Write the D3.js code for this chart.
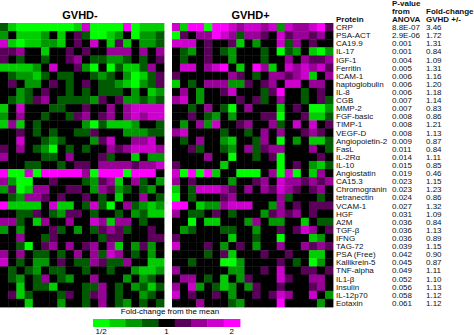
<!DOCTYPE html>
<html><head><meta charset="utf-8">
<script src="https://cdn.jsdelivr.net/npm/d3@7"></script>
<style>body{margin:0;background:#fff}</style>
</head><body>
<svg id="c" width="474" height="335"></svg>
<script>
const proteins = ["CRP","PSA-ACT","CA19.9","IL-17","IGF-1","Ferritin","ICAM-1","haptoglobulin","IL-8","CGB","MMP-2","FGF-basic","TIMP-1","VEGF-D","Angiopoietin-2","FasL","IL-2Rα","IL-10","Angiostatin","CA15.3","Chromogranin","tetranectin","VCAM-1","HGF","A2M","TGF-β","IFNG","TAG-72","PSA (Free)","Kallikrein-5","TNF-alpha","IL1-β","Insulin","IL-12p70","Eotaxin"];
const pValues = ["8.8E-07","2.9E-06","0.001","0.001","0.004","0.005","0.006","0.006","0.006","0.007","0.007","0.008","0.008","0.008","0.009","0.011","0.014","0.015","0.019","0.023","0.023","0.024","0.027","0.031","0.036","0.036","0.036","0.039","0.042","0.045","0.049","0.052","0.056","0.058","0.061"];
const foldChanges = ["3.46","1.72","1.31","0.84","1.09","1.31","1.16","1.20","1.18","1.14","0.83","0.86","1.21","1.13","0.87","0.84","1.11","0.85","0.46","1.15","1.23","0.86","1.32","1.09","0.84","1.13","0.89","1.15","0.90","0.87","1.11","1.10","1.13","1.12","1.12"];

// fold change from the mean, in quarter-log2 steps (-4 = 1/2, 0 = 1, 4 = 2)
const gvhdNeg = [
[-1,-3,-4,-4,-4,-4,-4,-4,-4,-3, 3,-4,-4,-4,-4, 4,-4,-3,-3,-3],
[-2, 0,-3,-3,-3,-2, 0,-3, 0, 1,-1,-4,-4,-3,-2, 0,-4,-2,-2,-1],
[ 3,-3,-4,-3,-3,-2,-2,-3, 0, 1, 0, 3, 0,-3, 1,-3, 0,-2,-2,-1],
[ 1, 1, 2, 0, 0,-3, 0, 0, 1, 0, 1, 0, 0, 2, 2, 2, 0, 2, 0, 2],
[ 1, 0,-1, 0, 0,-1, 0, 0, 1, 2, 0,-1,-1,-2,-2,-1, 0,-1, 0, 1],
[-3,-3,-3,-3,-2, 0, 3, 0, 0, 1,-2,-4, 0,-4,-1,-3,-3,-1, 2, 0],
[ 0,-1,-2,-2,-3,-1, 0,-1,-1, 0, 0,-1,-2,-1, 0,-2,-4,-3,-1, 1],
[ 0, 1, 0,-2,-2, 0, 1, 0,-1, 0, 1, 0,-1,-1,-2,-3,-4,-2,-1, 1],
[ 0, 0,-2,-1, 0, 1, 0, 0,-1, 0,-1, 0,-1,-1,-1, 0,-2, 0,-3,-2],
[ 0,-1,-2,-1, 1, 2, 0,-1,-1,-1,-1,-2, 1, 0, 1,-2,-2,-1,-2,-1],
[-3, 0, 3, 0, 0, 0,-1,-1, 0, 0, 1, 0, 0, 2, 0, 2, 3, 3, 3, 3],
[-2, 0, 2, 0, 0,-1, 0, 0,-1, 1, 2, 0, 1, 2, 0, 2, 3, 2, 3, 3],
[-3, 2,-3, 0,-1, 0, 0, 0, 0, 0,-2,-4,-1,-3,-3,-3,-2, 0, 0,-1],
[ 0, 0, 1, 0,-1, 0,-1, 0, 0,-1,-1, 1, 0, 0, 0,-2,-2,-2,-1,-1],
[ 0, 0, 3, 0, 0,-1,-2,-1, 0, 0, 0,-2, 1, 3, 0, 0, 2, 2, 3, 0],
[ 1, 0, 2, 0,-1,-2,-4, 0,-1, 0,-1, 0, 0, 2, 1, 2, 3, 3, 3, 2],
[ 2, 0, 0, 0, 0,-1,-1, 0, 2, 0, 0, 0, 1,-1, 0, 0,-3, 0,-2,-2],
[ 0, 0, 0,-1,-1, 0, 0,-1, 0, 1, 1, 0, 2, 2, 2, 2, 1, 2, 2, 3],
[ 4,-4,-4, 3,-4, 4, 4, 4, 4, 4, 2,-4, 4, 4, 4,-4, 4, 4, 4, 0],
[ 2,-2,-4,-4, 0, 0, 1, 0, 0, 0,-1,-2, 1, 2,-3, 0, 2,-1, 0,-2],
[-2, 1,-4,-3, 2, 2, 0, 0, 1, 1, 0,-2, 2, 1,-2,-1, 0,-1,-2, 0],
[ 0,-1,-2, 2, 2, 1, 0, 1, 0, 0, 1, 0,-1, 0,-3, 0, 0, 2, 0,-1],
[ 4,-3,-3,-3,-3, 0, 3,-3,-3, 0,-1, 3,-1,-4, 0, 2,-1,-2,-3,-2],
[ 0, 0,-1,-1, 1, 0,-1,-2, 1, 1, 0,-1, 0, 0,-1, 0,-2,-1,-3,-3],
[ 2, 2,-1, 0,-3, 2, 0, 0, 2, 0, 0, 3, 2,-3, 2, 2, 0,-1, 0, 0],
[-2, 0,-2, 0, 0, 0, 1,-1, 0,-2, 0,-1, 1, 2, 1,-1, 0, 0, 1, 0],
[ 0, 0, 2, 0, 0,-1, 1, 0, 0, 0, 0, 0,-1, 1, 1, 0, 0, 0, 1, 1],
[ 0, 0,-1,-4, 0, 1, 2, 0, 2, 0, 1, 2, 0, 2,-3, 0,-2, 1,-2, 0],
[ 2, 0, 2, 0,-1,-1, 0,-1, 0, 2, 0, 2,-1, 3, 2, 0,-1, 0,-2, 0],
[ 3, 0,-1, 0,-2,-2, 0, 1, 0,-1,-1, 2, 1,-1,-1, 2, 0, 0,-3,-3],
[ 0,-1, 0,-1,-2, 0,-1,-1, 0, 0,-1, 0, 0,-1, 0, 0,-2,-3,-3,-2],
[ 0,-1,-2, 0,-1, 2, 0,-1,-2, 0, 0, 2, 0, 0, 0,-2, 0,-2,-1, 0],
[ 0, 0,-3, 0,-1,-1,-3, 0, 0, 0,-1,-1, 2, 0,-1, 0,-2,-1,-3,-1],
[ 0, 1,-3,-1, 0, 0, 0,-1, 1, 0,-1, 1, 2, 0,-1, 0, 0,-2,-1, 0],
[ 0, 0, 0,-3, 0, 0, 0,-2, 0, 0,-1, 0, 2, 0,-1,-2, 0,-1, 0,-1]
];
const gvhdPos = [
[ 3,-3, 4, 4,-4, 4, 4, 3, 2, 3, 3, 2, 3,-2, 3, 2, 2, 3, 4, 1],
[-4, 1, 0, 2, 2, 4, 3, 2,-1, 2, 2, 1, 0, 3, 1, 2, 2, 1, 2, 0],
[ 3, 3, 3, 0, 1, 0, 0, 1,-3, 0,-2, 0, 0, 3,-1, 2, 0, 1, 0, 0],
[ 0,-1,-2, 0, 1, 0,-1,-2, 0, 0, 0,-1, 0,-4,-1,-2, 0,-3,-4,-2],
[ 0,-1, 0, 0, 1, 0, 0,-2, 0, 0, 0,-1, 0, 0, 2, 0, 2, 1, 1, 2],
[ 0, 3, 3, 0, 2, 3, 4, 0,-3, 0, 4, 2,-3, 0, 3, 2, 3, 2, 3, 1],
[ 1, 0, 0, 0, 0, 0, 0, 2, 1, 0,-1, 0, 2, 2, 1, 2, 3,-3, 0, 2],
[-3, 0,-1, 0, 2, 2, 2,-2,-2, 1, 0, 1, 2, 0, 3, 3, 0, 2, 2, 0],
[ 0, 2, 0,-2, 0, 0, 1, 3, 0, 0, 0,-1, 1, 4, 0, 0,-1, 0, 1, 0],
[ 2, 3, 0,-2, 0, 0, 0, 0, 1, 0, 1,-1, 0, 2, 0, 0,-1, 0, 1,-1],
[ 0, 0,-1, 0, 2, 0,-1,-4, 0, 2, 0, 0, 0,-3, 0, 1, 0,-4,-4,-2],
[ 0, 0, 1, 0,-1,-2, 0,-2, 0, 0, 0, 1, 1,-4, 0, 0, 1,-3,-3,-1],
[ 0,-2, 0, 2,-2, 3, 0, 0, 1, 2, 0, 0, 2,-1, 0, 3, 0, 3, 0, 1],
[ 2, 3, 0, 0, 0, 0,-1, 0, 0,-1, 0, 2, 0, 2, 0, 0, 1, 2, 1, 0],
[ 0,-1, 0, 2, 0, 0,-2,-3, 0, 0,-1, 2, 0,-4, 0,-2, 0,-3,-3,-1],
[ 0, 0, 1,-1, 0, 0,-1,-2, 0, 2,-1, 1, 2, 2, 0, 0, 0, 2, 0,-1],
[ 0, 0, 0, 0, 2, 0, 0,-4, 0, 0,-1, 0, 1,-4, 0, 0, 0, 0, 1, 0],
[ 1, 0, 0, 0, 0, 0,-3, 0, 0, 0, 0, 0, 0,-4, 0, 1, 0,-2,-3,-1],
[ 3,-4, 4,-4, 4,-3, 0, 0,-4,-4,-4, 0, 2,-4, 3,-4, 0,-3, 2, 0],
[ 2, 0, 1, 0, 0, 0, 0,-2, 0, 0, 1, 2, 0, 3, 2, 2, 1, 2, 1, 2],
[-3, 0,-1, 3, 3, 3, 2, 1, 0, 2, 0, 2, 1, 3, 2, 1, 0, 1, 2, 0],
[-4, 0,-1, 0, 0, 0, 1, 2, 0, 0, 0, 0, 0, 2,-1, 0, 0, 0,-1, 0],
[ 4, 4, 0,-3,-2,-2, 2, 3, 3, 3, 0, 0,-2, 2, 0, 1, 0, 1, 1, 1],
[ 2, 0,-1,-1, 0, 1, 0,-1, 0, 0, 0,-2, 1, 2, 1, 2, 0, 1, 0, 0],
[ 0, 0,-4, 0,-3,-3, 0, 0, 0,-2, 2, 0,-2,-2, 0, 0,-3, 0,-1,-1],
[ 0,-2,-1, 0, 0, 0,-1,-1, 0, 0,-2, 0, 0, 1, 0, 1, 3, 2, 0, 1],
[ 1, 0, 0, 0, 0, 0, 0,-3, 0, 0,-1, 0, 0,-4, 0, 0, 0,-3,-2, 0],
[ 3, 0, 0, 0, 1, 0,-2, 0, 1, 0,-2, 0, 0, 2, 0, 0, 2, 1, 2, 1],
[ 0, 0, 0, 0,-1, 0, 1,-3, 0, 0, 0, 1, 0, 0, 1, 0, 0,-3,-3, 0],
[ 0, 0,-1, 0, 0, 0,-4,-4,-2, 0, 0, 0, 0, 1, 0,-1, 0,-4,-2, 0],
[ 2, 0, 0, 0, 0, 0, 0,-2,-2, 0, 0, 1, 0, 3, 0, 0, 1, 1, 0, 1],
[ 0, 2, 2, 0,-1, 0,-3, 0,-2, 1, 0, 0, 0, 3, 1, 0, 0, 2, 2, 0],
[ 2, 0, 3,-2, 0,-1,-3,-2, 0,-2, 1, 0, 0, 1, 0, 0, 0, 1, 2, 0],
[ 3, 0, 1, 0, 0, 1, 0,-2, 0, 0, 1, 0, 1, 3, 2, 0, 0, 3, 0,-2],
[ 0, 0, 0, 2, 0, 0, 0,-1,-2, 0, 0, 0, 0, 4, 0, 0, 0, 0,-2, 0]
];
const groupTitles = ["GVHD-","GVHD+"];
const legendLevels = [-4,-3,-2,-1,0,1,2,3,4];
const legendTickLevels = [-4,0,4];
const legendTickLabels = ["1/2","1","2"];

const svg = d3.select("#c");
const font = "'Liberation Sans', Arial, Helvetica, sans-serif";
const nCols = gvhdNeg[0].length;
const y = d3.scaleBand().domain(d3.range(proteins.length)).range([23, 307]);
const xNeg = d3.scaleBand().domain(d3.range(nCols)).range([0, 164]);
const xPos = d3.scaleBand().domain(d3.range(nCols)).range([172, 333]);
const intensity = d3.scalePow().exponent(0.75).domain([0, 4]).range([0, 255]).clamp(true);
const color = v => {
  const k = Math.round(intensity(Math.abs(v)));
  return v < 0 ? d3.rgb(0, k, 0).formatHex() : d3.rgb(k, 0, k).formatHex();
};

function drawGroup(data, x, title) {
  const g = svg.append("g");
  data.forEach((row, i) => {
    g.selectAll(null).data(row).join("rect")
      .attr("x", (d, j) => x(j))
      .attr("y", y(i))
      .attr("width", x.bandwidth() + 0.4)
      .attr("height", y.bandwidth() + 0.4)
      .attr("fill", d => color(d));
  });
  const r = x.range();
  svg.append("text").attr("x", (r[0] + r[1]) / 2 - 2).attr("y", 19)
    .attr("text-anchor", "middle").attr("font-family", font)
    .attr("font-weight", "bold").attr("font-size", 11).text(title);
}
drawGroup(gvhdNeg, xNeg, groupTitles[0]);
drawGroup(gvhdPos, xPos, groupTitles[1]);

// Text columns
const tx = {protein: 336, p: 392, fc: 426};
const rowsG = svg.append("g").attr("font-family", font).attr("font-size", 8).attr("fill", "#111");
const cy = i => y(i) + y.bandwidth() / 2 + 3;
rowsG.selectAll(".pn").data(proteins).join("text").attr("x", tx.protein).attr("y", (d, i) => cy(i)).text(d => d);
rowsG.selectAll(".pv").data(pValues).join("text").attr("x", tx.p).attr("y", (d, i) => cy(i)).text(d => d);
rowsG.selectAll(".fc").data(foldChanges).join("text").attr("x", tx.fc).attr("y", (d, i) => cy(i)).text(d => d);

const hdr = svg.append("g").attr("font-family", font).attr("font-size", 8).attr("font-weight", "bold").attr("fill", "#111");
hdr.append("text").attr("x", tx.protein).attr("y", 22).text("Protein");
[["P-value", 6], ["from", 14], ["ANOVA", 22]].forEach(([t, yy]) => hdr.append("text").attr("x", tx.p).attr("y", yy).text(t));
[["Fold-change", 14], ["GVHD +/-", 22]].forEach(([t, yy]) => hdr.append("text").attr("x", tx.fc).attr("y", yy).text(t));

// Legend
const lx = d3.scaleBand().domain(legendLevels).range([93, 240]);
svg.append("text").attr("x", 170).attr("y", 314).attr("text-anchor", "middle")
  .attr("font-family", font).attr("font-size", 8).text("Fold-change from the mean");
svg.selectAll(".leg").data(legendLevels).join("rect")
  .attr("x", d => lx(d)).attr("y", 319).attr("width", lx.bandwidth() + 0.4).attr("height", 8)
  .attr("fill", d => color(d));
svg.selectAll(".lt").data(legendTickLevels).join("text")
  .attr("x", d => lx(d) + lx.bandwidth() / 2).attr("y", 334).attr("text-anchor", "middle")
  .attr("font-family", font).attr("font-size", 8).text((d, i) => legendTickLabels[i]);
</script>
</body></html>
